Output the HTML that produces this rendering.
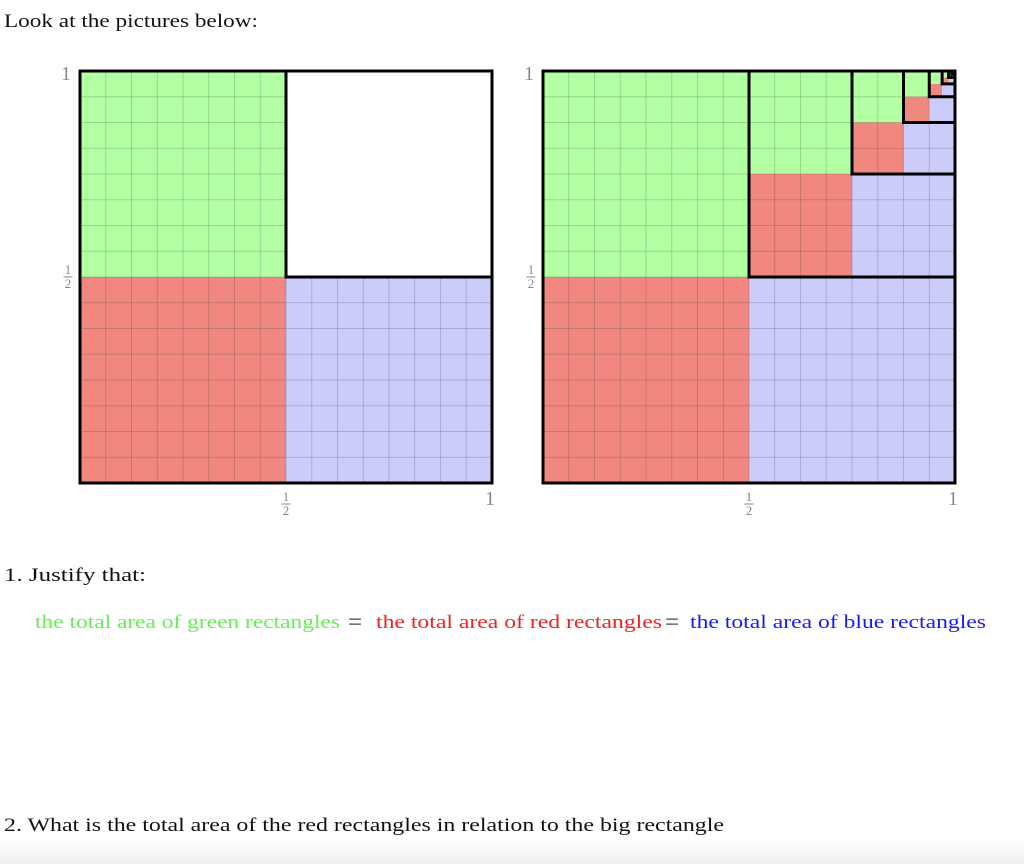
<!DOCTYPE html>
<html><head><meta charset="utf-8"><style>
html,body{margin:0;padding:0;background:#fff;width:1024px;height:864px;overflow:hidden}
svg text{font-family:"Liberation Serif",serif}
</style></head><body>
<svg id="page" width="1024" height="864" viewBox="0 0 1024 864" xmlns="http://www.w3.org/2000/svg">
<defs><linearGradient id="bg" x1="0" y1="0" x2="0" y2="1"><stop offset="0" stop-color="#fff"/><stop offset="1" stop-color="#efefef"/></linearGradient></defs>
<rect x="0" y="838" width="1024" height="26" fill="url(#bg)"/>
<text x="4" y="27" font-size="19" textLength="254" lengthAdjust="spacingAndGlyphs" fill="#111">Look at the pictures below:</text>
<g id="fig-left"></g>
<g id="fig-right"></g>
<text x="4" y="581" font-size="19" textLength="142" lengthAdjust="spacingAndGlyphs" fill="#111">1. Justify that:</text>
<text x="35" y="628" font-size="19" textLength="305" lengthAdjust="spacingAndGlyphs" fill="#66ee55">the total area of green rectangles</text>
<text x="348" y="630" font-size="25" fill="#444">=</text>
<text x="376" y="628" font-size="19" textLength="286" lengthAdjust="spacingAndGlyphs" fill="#ee2222">the total area of red rectangles</text>
<text x="665" y="630" font-size="25" fill="#444">=</text>
<text x="690" y="628" font-size="19" textLength="296" lengthAdjust="spacingAndGlyphs" fill="#1a1aee">the total area of blue rectangles</text>
<text x="4" y="831" font-size="19" textLength="720" lengthAdjust="spacingAndGlyphs" fill="#111">2. What is the total area of the red rectangles in relation to the big rectangle</text>
</svg>
<script>
const NS="http://www.w3.org/2000/svg";
const levelsLeft=1, levelsRight=7, gridN=16;
const G="#b3ffa3", R="#f08880", B="#ccccfa";
function mk(parent,tag,attrs){const e=document.createElementNS(NS,tag);for(const k in attrs)e.setAttribute(k,attrs[k]);parent.appendChild(e);return e;}
function fig(id,x0,levels){
  const g=document.getElementById(id);const S=412,y0=71;
  const fills=mk(g,'g',{});
  let x=x0,y=y0,s=S;const borders=[[x0,y0,S]];
  for(let i=0;i<levels;i++){
    const h=s/2;
    let r=mk(fills,'rect',{x:x,y:y,width:h,height:h,fill:G});
    
    r=mk(fills,'rect',{x:x,y:y+h,width:h,height:h,fill:R});
    
    r=mk(fills,'rect',{x:x+h,y:y+h,width:h,height:h,fill:B});
    
    x=x+h;s=h;borders.push([x,y,s]);
  }
  const grid=mk(g,'g',{stroke:'#223322','stroke-opacity':0.2,'stroke-width':1});
  
  const c=S/gridN;
  for(let k=1;k<gridN;k++){
    const p=x0+k*c, q=y0+k*c;
    if(levels===1){
      mk(grid,'line',{x1:p,y1:k<8?y0:y0+S/2,x2:p,y2:y0+S});
      mk(grid,'line',{x1:x0,y1:q,x2:q<y0+S/2?x0+S/2:x0+S,y2:q});
    }else{
      mk(grid,'line',{x1:p,y1:y0,x2:p,y2:y0+S});
      mk(grid,'line',{x1:x0,y1:q,x2:x0+S,y2:q});
    }
  }
  const bd=mk(g,'g',{fill:'none',stroke:'#000','stroke-width':3});
  borders.forEach(b=>{const r=mk(bd,'rect',{x:b[0],y:b[1],width:b[2],height:b[2]});
    });
  const lab=mk(g,'g',{fill:'#888','font-size':20});
  
  let t=mk(lab,'text',{x:x0-14,y:80,'text-anchor':'middle'});t.textContent='1';
  t=mk(lab,'text',{x:x0+S-2,y:505,'text-anchor':'middle'});t.textContent='1';
  function frac(cx,cy){
    let a=mk(lab,'text',{x:cx,y:cy,'text-anchor':'middle','font-size':13});a.textContent='1';
    mk(lab,'line',{x1:cx-4.5,y1:cy+3,x2:cx+4.5,y2:cy+3,stroke:'#888','stroke-width':1});
    a=mk(lab,'text',{x:cx,y:cy+14,'text-anchor':'middle','font-size':13});a.textContent='2';
  }
  frac(x0-12,274);frac(x0+S/2,501);
}
fig('fig-left',80,levelsLeft);
fig('fig-right',543,levelsRight);
</script>
</body></html>
